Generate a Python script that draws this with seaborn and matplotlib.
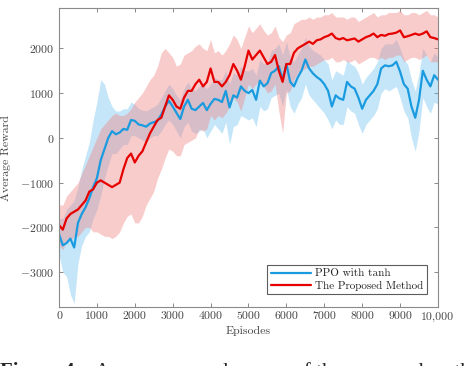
import numpy as np
import pandas as pd
import seaborn as sns
import matplotlib.pyplot as plt
from matplotlib.ticker import FixedLocator

# episodes, sampled every 100
episodes = list(range(0, 10001, 100))

ppo_mean = [-2150, -2400, -2350, -2250, -2450, -1900, -1700, -1550, -1350, -1100,
            -900, -500, -250, 0, 150, 80, 120, 200, 180, 400,
            380, 300, 280, 250, 320, 350, 380, 520, 700, 830,
            700, 560, 420, 700, 850, 650, 620, 700, 780, 620,
            760, 870, 850, 800, 1050, 680, 950, 900, 1150, 1050,
            1000, 1070, 850, 1280, 1150, 1220, 1450, 1500, 1600, 1300,
            1650, 1250, 1150, 1350, 1500, 1750, 1550, 1440, 1360, 1300,
            1200, 1050, 700, 950, 880, 850, 1250, 1150, 1100, 900,
            650, 850, 950, 1050, 1200, 1550, 1620, 1600, 1620, 1700,
            1480, 1200, 1100, 700, 450, 850, 1500, 1300, 1150, 1400,
            1300]
ppo_lo = [-2600, -3000, -3100, -3500, -3700, -2800, -2400, -2200, -2100, -1800,
          -1600, -1300, -900, -600, -350, -350, -250, -150, -150, 50,
          50, 0, -50, -100, 0, 50, 50, 150, 300, 400,
          300, 150, 0, 250, 350, 150, 100, 150, 200, 0,
          150, 300, 200, 100, 350, -150, 250, 300, 500, 450,
          400, 450, 250, 700, 600, 650, 900, 950, 1000, 700,
          1100, 700, 550, 750, 900, 1200, 950, 850, 750, 650,
          550, 400, 200, 400, 300, 300, 700, 600, 550, 300,
          100, 300, 400, 500, 650, 1000, 1100, 1050, 1100, 1150,
          900, 600, 450, 0, -300, 150, 900, 700, 550, 800,
          750]
ppo_hi = [-1800, -1800, -1600, -1500, -1400, -1100, -700, -400, -100, 400,
          800, 1300, 1200, 900, 700, 600, 600, 650, 650, 800,
          750, 650, 620, 600, 650, 700, 750, 900, 1050, 1200,
          1100, 950, 850, 1100, 1250, 1100, 1050, 1150, 1200, 1100,
          1200, 1350, 1300, 1300, 1500, 1200, 1450, 1400, 1600, 1500,
          1500, 1550, 1400, 1750, 1650, 1700, 1950, 2000, 2100, 1850,
          2150, 1800, 1700, 1850, 2000, 2250, 2050, 1950, 1900, 1850,
          1750, 1650, 1300, 1500, 1450, 1400, 1750, 1650, 1600, 1450,
          1200, 1350, 1450, 1550, 1700, 2000, 2100, 2100, 2100, 2200,
          2000, 1750, 1650, 1300, 1050, 1450, 2000, 1850, 1700, 1900,
          1800]

prop_mean = [-1950, -2050, -1800, -1700, -1650, -1600, -1500, -1400, -1200, -1150,
             -1000, -950, -1000, -1050, -1100, -1050, -1000, -700, -450, -350,
             -550, -400, -300, -100, 100, 250, 400, 450, 700, 950,
             850, 700, 650, 900, 1050, 1050, 1200, 1300, 1150, 1250,
             1550, 1250, 1250, 1150, 1250, 1400, 1650, 1500, 1300, 1600,
             1950, 1750, 1850, 1950, 1800, 1650, 1700, 1850, 1500, 1250,
             1650, 1650, 1900, 2000, 2050, 2100, 2150, 2100, 2180, 2200,
             2250, 2280, 2330, 2230, 2200, 2230, 2180, 2200, 2220, 2150,
             2200, 2250, 2280, 2330, 2250, 2300, 2280, 2320, 2330, 2350,
             2400, 2250, 2270, 2300, 2330, 2300, 2330, 2380, 2250, 2230,
             2200]
prop_lo = [-2400, -2500, -2300, -2300, -2200, -2200, -2100, -2000, -2000, -2100,
           -2100, -2150, -2200, -2200, -2250, -2200, -2100, -1900, -1750, -1700,
           -1900, -1900, -1750, -1500, -1350, -1200, -900, -700, -450, -250,
           -300, -400, -400, -150, -100, -50, 0, 200, 150, 200,
           500, 400, 500, 450, 550, 700, 900, 800, 600, 900,
           1200, 1100, 1200, 1300, 1150, 1000, 1050, 1200, 600, 100,
           1000, 1050, 1300, 1450, 1500, 1550, 1600, 1600, 1650, 1700,
           1750, 1750, 1800, 1700, 1700, 1750, 1700, 1700, 1750, 1650,
           1700, 1750, 1800, 1800, 1750, 1800, 1750, 1800, 1800, 1850,
           1850, 1700, 1750, 1800, 1800, 1750, 1800, 1850, 1700, 1700,
           1700]
prop_hi = [-1500, -1500, -1300, -1200, -1100, -1000, -800, -600, -400, -200,
           0, 200, 300, 400, 500, 550, 500, 500, 550, 650,
           800, 900, 1000, 1150, 1300, 1400, 1600, 1900, 2000, 1900,
           1800, 1600, 1650, 1850, 1900, 1950, 2050, 2100, 2000, 1950,
           2200, 1900, 1950, 1850, 1950, 2100, 2300, 2200, 2000, 2250,
           2500, 2350, 2450, 2550, 2400, 2300, 2350, 2500, 2250, 2150,
           2300, 2350, 2550, 2600, 2650, 2650, 2700, 2650, 2700, 2700,
           2750, 2750, 2800, 2700, 2700, 2700, 2650, 2700, 2700, 2600,
           2650, 2700, 2750, 2800, 2700, 2750, 2750, 2800, 2800, 2800,
           2850, 2750, 2750, 2800, 2800, 2750, 2800, 2850, 2750, 2750,
           2700]

x_ticks = [0, 1000, 2000, 3000, 4000, 5000, 6000, 7000, 8000, 9000, 10000]
x_labels = ['0', '1000', '2000', '3000', '4000', '5000', '6000', '7000', '8000', '9000', '10,000']
y_ticks = [-3000, -2000, -1000, 0, 1000, 2000]
y_labels = [r'$-3000$', r'$-2000$', r'$-1000$', '$0$', '$1000$', '$2000$']

sns.set_style('ticks')
plt.rcParams['font.family'] = ['cmr10', 'DejaVu Serif']
plt.rcParams['mathtext.fontset'] = 'cm'
plt.rcParams['axes.unicode_minus'] = False

blue = '#1a9be0'
red = '#e60000'

df = pd.DataFrame({'Episodes': episodes, 'PPO with tanh': ppo_mean,
                   'The Proposed Method': prop_mean})
long = df.melt(id_vars='Episodes', var_name='method', value_name='reward')

fig = plt.figure(figsize=(4.74, 3.66), dpi=100)
ax = fig.add_axes([0.1245, 0.161, 0.7995, 0.817])

ax.fill_between(episodes, ppo_lo, ppo_hi, color='#5ab8ee', alpha=0.35, linewidth=0)
ax.fill_between(episodes, prop_lo, prop_hi, color='#f08080', alpha=0.4, linewidth=0)
sns.lineplot(data=long, x='Episodes', y='reward', hue='method',
             palette=[blue, red], linewidth=1.6, ax=ax)

ax.set_xlim(0, 10000)
ax.set_ylim(-3780, 2900)
ax.xaxis.set_major_locator(FixedLocator(x_ticks))
ax.set_xticklabels(x_labels)
ax.yaxis.set_major_locator(FixedLocator(y_ticks))
ax.set_yticklabels(y_labels)
ax.tick_params(direction='in', top=True, right=True, length=3, width=0.6,
               color='#777777', labelcolor='#444444', labelsize=8.5)
for s in ax.spines.values():
    s.set_color('#8a8a8a')
    s.set_linewidth(0.8)

ax.set_xlabel('Episodes', fontsize=8.5, color='#444444', labelpad=3)
ax.set_ylabel('Average Reward', fontsize=8.5, color='#444444', labelpad=6)

leg = ax.legend(loc='lower right', bbox_to_anchor=(0.985, 0.025), fontsize=8,
                frameon=True, fancybox=False, handlelength=3.6, borderpad=0.3,
                labelspacing=0.2, handletextpad=0.4)
leg.get_frame().set_edgecolor('#333333')
leg.get_frame().set_linewidth(0.8)
for t in leg.get_texts():
    t.set_color('#222222')

# caption strip, cropped at the bottom edge as in the source page
fig.text(0.0, 0.011, 'Figure 4.', fontsize=15, fontweight='bold',
         family='Liberation Serif', va='top')
fig.text(0.2, 0.011, 'Average reward curves of the proposed method and the',
         fontsize=15, family='Liberation Serif', va='top')

fig.savefig('out.png', dpi=100)
